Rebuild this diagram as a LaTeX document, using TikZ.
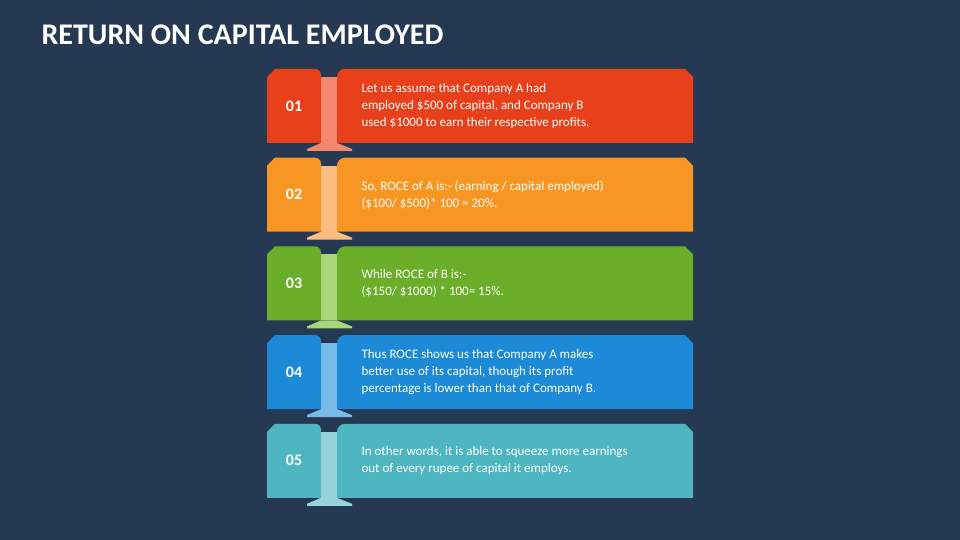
\documentclass[tikz,border=0pt]{standalone}
\usepackage{fontspec}
\setmainfont{Carlito}
\begin{document}
\begin{tikzpicture}[x=1pt,y=-1pt,
  txt/.style={text=white,font=\fontsize{13}{17}\selectfont,align=left,anchor=west},
  num/.style={text=white,font=\bfseries\fontsize{16}{18}\selectfont}]
\fill[fill={rgb,255:red,37;green,58;blue,82}] (0,0) rectangle (960,540);
\node[anchor=west,text=white,font=\bfseries\fontsize{30}{32}\selectfont] (title) at (38,35) {RETURN ON CAPITAL EMPLOYED};
\foreach \i/\c/\l/\n/\t in {
 0/{232,64,26}/{244,135,112}/01/{Let us assume that Company A had\\employed \$500 of capital, and Company B\\used \$1000 to earn their respective profits.},
 1/{248,150,36}/{252,190,128}/02/{So, ROCE of A is:- (earning / capital employed)\\(\$100/ \$500)* 100 = 20\%.},
 2/{106,174,42}/{170,214,120}/03/{While ROCE of B is:-\\(\$150/ \$1000) * 100= 15\%.},
 3/{28,138,214}/{120,186,232}/04/{Thus ROCE shows us that Company A makes\\better use of its capital, though its profit\\percentage is lower than that of Company B.},
 4/{77,182,192}/{150,212,218}/05/{In other words, it is able to squeeze more earnings\\out of every rupee of capital it employs.}}{
 \pgfmathsetmacro{\yt}{69+88.7*\i}
 \definecolor{cc}{RGB}{\c}\definecolor{ll}{RGB}{\l}
 \fill[ll] (321,\yt+8) rectangle (337,\yt+74);
 \fill[ll] (321,\yt+74) -- (337,\yt+74) -- (352,\yt+80) -- (352,\yt+82) -- (307,\yt+82) -- (307,\yt+80) -- cycle;
 \fill[cc] (267,\yt+74) -- (267,\yt+8) -- (275,\yt) -- (315,\yt) to[out=0,in=90] (321,\yt+6) -- (321,\yt+74) -- cycle;
 \fill[cc] (337,\yt+74) -- (337,\yt+8) to[out=90,in=180] (345,\yt) -- (685,\yt) -- (693,\yt+8) -- (693,\yt+74) -- cycle;
 \node[num] (n\i) at (294,\yt+37) {\n};
 \node[txt] (t\i) at (358,\yt+37) {\t};
}
\end{tikzpicture}
\end{document}
